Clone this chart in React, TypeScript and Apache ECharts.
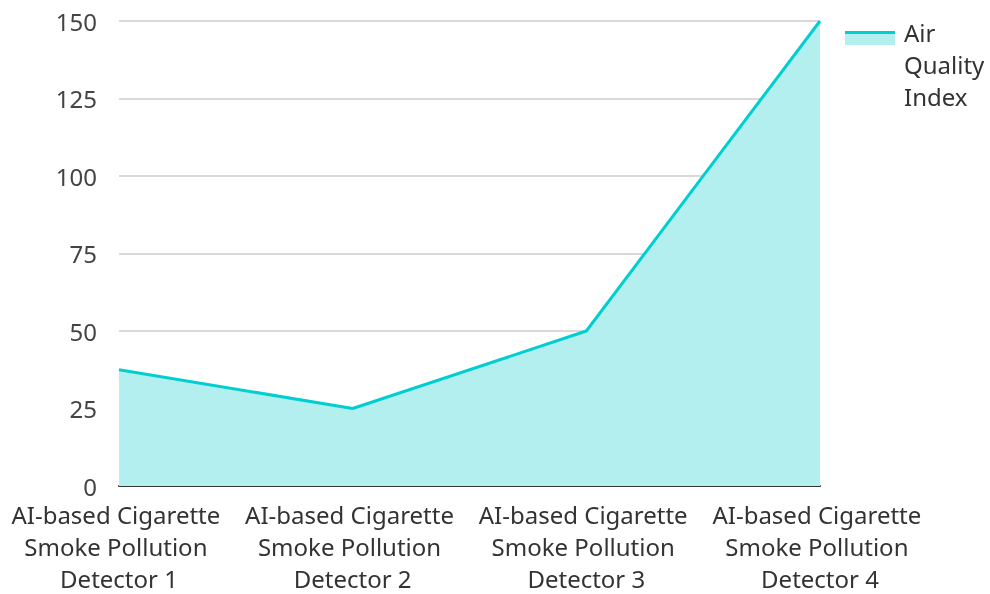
import React, { useEffect, useRef } from "react";
import * as echarts from "echarts";

const categories = [
  "AI-based Cigarette Smoke Pollution Detector 1",
  "AI-based Cigarette Smoke Pollution Detector 2",
  "AI-based Cigarette Smoke Pollution Detector 3",
  "AI-based Cigarette Smoke Pollution Detector 4",
];
const seriesName = "Air Quality Index";
const aqiValues = [37.5, 25, 50, 150];

export default function App() {
  const ref = useRef<HTMLDivElement>(null);
  useEffect(() => {
    if (!ref.current) return;
    const chart = echarts.init(ref.current, null, { renderer: "svg" });
    const font = "'Noto Sans', sans-serif";
    chart.setOption({
      animation: false,
      textStyle: { fontFamily: font },
      grid: { left: 118, right: 170, top: 21, bottom: 106, containLabel: false },
      legend: {
        data: [seriesName],
        orient: "vertical",
        left: 845,
        top: -36,
        padding: 0,
        icon: "rect",
        itemWidth: 50,
        itemHeight: 14,
        formatter: (name: string) =>
          "{g| }\n{g| }\n" +
          name
            .replace("Air Quality ", "Air\nQuality\n")
            .split("\n")
            .map((s) => "{t|" + s + "}")
            .join("\n"),
        itemStyle: {
          borderWidth: 0,
          color: {
            type: "linear",
            x: 0,
            y: 0,
            x2: 0,
            y2: 1,
            colorStops: [
              { offset: 0, color: "#00CED1" },
              { offset: 0.24, color: "#00CED1" },
              { offset: 0.24, color: "#b3efef" },
              { offset: 1, color: "#b3efef" },
            ],
          },
        },
        textStyle: {
          fontSize: 24,
          color: "#333",
          fontFamily: font,
          lineHeight: 32,
          rich: {
            g: { fontSize: 12, lineHeight: 26 },
            t: { fontSize: 24, lineHeight: 32, color: "#333", fontFamily: font, padding: [0, 0, 0, 4] },
          },
        },
      },
      xAxis: {
        type: "category",
        data: categories,
        boundaryGap: false,
        axisLine: { lineStyle: { color: "#333", width: 2 } },
        axisTick: { show: false },
        axisLabel: {
          fontSize: 24,
          color: "#333",
          fontFamily: font,
          width: 232,
          overflow: "break",
          lineHeight: 32,
          margin: 12,
          interval: 0,
        },
        splitLine: { show: false },
      },
      yAxis: {
        type: "value",
        min: 0,
        max: 150,
        interval: 25,
        axisLine: { show: false },
        axisTick: { show: false },
        axisLabel: { fontSize: 24, color: "#444", fontFamily: font, margin: 22 },
        splitLine: { lineStyle: { color: "#ccc", width: 1.5 } },
      },
      series: [
        {
          name: seriesName,
          type: "line",
          data: aqiValues,
          symbol: "none",
          lineStyle: { color: "#00CED1", width: 3 },
          itemStyle: { color: "#00CED1" },
          areaStyle: { color: "#b3efef", opacity: 1 },
        },
      ],
    });
    return () => chart.dispose();
  }, []);
  return (
    <div
      ref={ref}
      style={{ position: "fixed", left: 0, top: 0, width: 990, height: 594 }}
    />
  );
}
